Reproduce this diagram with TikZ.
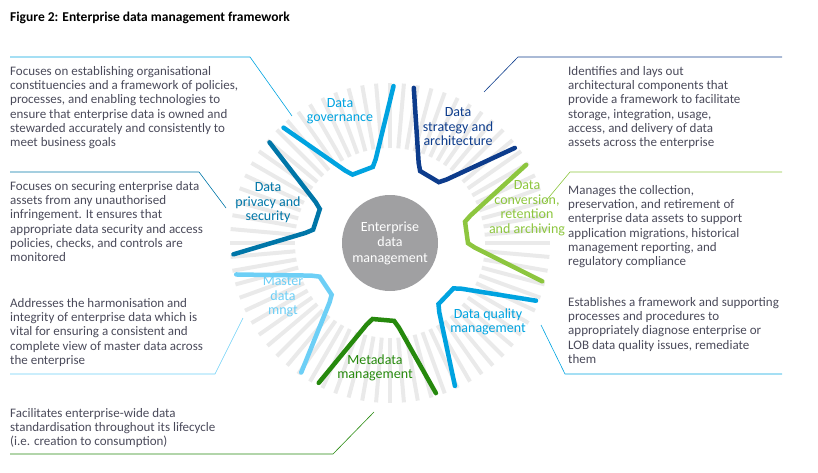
\documentclass[tikz,border=0pt]{standalone}
\usepackage{fontspec}
\setmainfont{Carlito}
\usetikzlibrary{calc}
\definecolor{cgov}{HTML}{00A3E0}
\definecolor{cstr}{HTML}{0D3C8C}
\definecolor{ccon}{HTML}{8DC63F}
\definecolor{cqua}{HTML}{00A3E0}
\definecolor{cmet}{HTML}{26890D}
\definecolor{cmas}{HTML}{6DCFF6}
\definecolor{cpri}{HTML}{0076A8}
\definecolor{ctxt}{HTML}{4A4A5A}
\definecolor{cray}{HTML}{EAEAEA}
\definecolor{ccir}{HTML}{A0A0A2}
\begin{document}
\begin{tikzpicture}[x=1pt,y=1pt,
  desc/.style={anchor=north west,inner sep=0pt,align=left,font=\fontsize{13}{14.3}\selectfont,text=ctxt},
  lab/.style={inner sep=0pt,align=center,font=\fontsize{14}{14.5}\selectfont},
  lead/.style={line width=0.6pt},
  bracket/.style={line width=4.5pt,line cap=round,line join=miter}]
\useasboundingbox (0,0) rectangle (818,472);
\coordinate (c) at (390,229);
% rays
\foreach \a in {0,5,...,355}
  \draw[cray,line width=4pt] ($(c)+(\a:95)$) -- ($(c)+(\a:160)$);
% brackets
\foreach \cc/\col in {-95/cmet,-43.57/cqua,7.86/ccon,59.29/cstr,110.71/cgov,162.14/cpri,213.57/cmas}{
  \draw[bracket,\col] ($(c)+(\cc-22:157)$) -- ($(c)+(\cc-11:85)$) -- ($(c)+(\cc-8:78)$)
     -- ($(c)+(\cc+8:78)$) -- ($(c)+(\cc+11:85)$) -- ($(c)+(\cc+22:157)$);
}
\node[circle,fill=ccir,minimum size=96pt,inner sep=0pt,text=white,align=center,
  font=\fontsize{14}{15.5}\selectfont] (core) at (c) {Enterprise\\data\\management};
% labels
\node[lab,text=cgov] (lgov) at (340,361) {Data\\governance};
\node[lab,text=cstr] (lstr) at (458,345) {Data\\strategy and\\architecture};
\node[lab,text=ccon] (lcon) at (527,264) {Data\\conversion,\\retention\\and archiving};
\node[lab,text=cqua] (lqua) at (488,150) {Data quality\\management};
\node[lab,text=cmet] (lmet) at (375,104) {Metadata\\management};
\node[lab,text=cmas] (lmas) at (283,175) {Master\\data\\mngt};
\node[lab,text=cpri] (lpri) at (268,269) {Data\\privacy and\\security};
% title
\node[anchor=west,inner sep=0pt,font=\bfseries\fontsize{13.5}{15}\selectfont,text=black] (title) at (10,454) {Figure 2: Enterprise data management framework};
% descriptions
\node[desc] (dgov) at (10,406) {Focuses on establishing organisational\\constituencies and a framework of policies,\\processes, and enabling technologies to\\ensure that enterprise data is owned and\\stewarded accurately and consistently to\\meet business goals};
\node[desc] (dpri) at (10,291) {Focuses on securing enterprise data\\assets from any unauthorised\\infringement. It ensures that\\appropriate data security and access\\policies, checks, and controls are\\monitored};
\node[desc] (dmas) at (10,174) {Addresses the harmonisation and\\integrity of enterprise data which is\\vital for ensuring a consistent and\\complete view of master data across\\the enterprise};
\node[desc] (dmet) at (10,64) {Facilitates enterprise-wide data\\standardisation throughout its lifecycle\\(i.e. creation to consumption)};
\node[desc] (dstr) at (568,406) {Identifies and lays out\\architectural components that\\provide a framework to facilitate\\storage, integration, usage,\\access, and delivery of data\\assets across the enterprise};
\node[desc] (dcon) at (568,287) {Manages the collection,\\preservation, and retirement of\\enterprise data assets to support\\application migrations, historical\\management reporting, and\\regulatory compliance};
\node[desc] (dqua) at (568,175) {Establishes a framework and supporting\\processes and procedures to\\appropriately diagnose enterprise or\\LOB data quality issues, remediate\\them};
% leader lines
\coordinate (g1) at (10,415); \coordinate (g2) at (250,415); \coordinate (g3) at (292,356);
\draw[lead,cgov] (g1) -- (g2) -- (g3);
\coordinate (p1) at (10,300); \coordinate (p2) at (199,300); \coordinate (p3) at (226,264);
\draw[lead,cpri] (p1) -- (p2) -- (p3);
\coordinate (m1) at (10,98); \coordinate (m2) at (215,98); \coordinate (m3) at (243,154);
\draw[lead,cmas] (m1) -- (m2) -- (m3);
\coordinate (t1) at (10,18); \coordinate (t2) at (333,18); \coordinate (t3) at (374,60);
\draw[lead,cmet] (t1) -- (t2) -- (t3);
\coordinate (s1) at (782,415); \coordinate (s2) at (518,415); \coordinate (s3) at (484,380);
\draw[lead,cstr] (s1) -- (s2) -- (s3);
\coordinate (k1) at (782,300); \coordinate (k2) at (570,300); \coordinate (k3) at (545,270);
\draw[lead,ccon] (k1) -- (k2) -- (k3);
\coordinate (q1) at (782,98); \coordinate (q2) at (565,98); \coordinate (q3) at (541,147);
\draw[lead,cqua] (q1) -- (q2) -- (q3);
\end{tikzpicture}
\end{document}
